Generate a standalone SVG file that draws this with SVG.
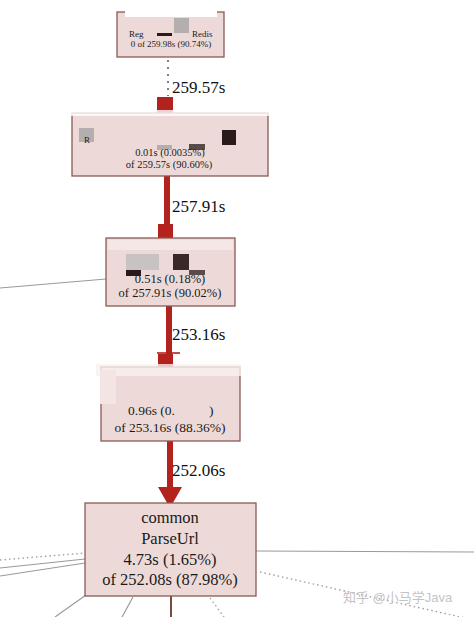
<svg xmlns="http://www.w3.org/2000/svg" width="474" height="617" viewBox="0 0 474 617">
<style>
.node{fill:#eddad8;stroke:#8a5a55;stroke-width:1.3}
.t{font-family:"Liberation Serif","Times New Roman",serif;fill:#1a1a1a;text-anchor:middle}
.lbl{font-family:"Liberation Serif","Times New Roman",serif;fill:#111;font-size:17px}
.red{fill:#b3221c}
.thin{fill:none;stroke:#9a9a9a;stroke-width:1.2}
.dot{fill:none;stroke:#a0a0a0;stroke-width:1.4;stroke-dasharray:1.5 3}
.blur{fill:#b5aeae}
.dark{fill:#2a1a1a}
</style>
<rect width="474" height="617" fill="#ffffff"/>
<g id="connectors">
<line x1="168" y1="60" x2="168" y2="96" stroke="#555" stroke-width="1.5" stroke-dasharray="2 5"/>
<rect class="red" x="157" y="97" width="16" height="16"/>
<rect class="red" x="164" y="176" width="6" height="48"/>
<rect class="red" x="158" y="224" width="15" height="14"/>
<rect class="red" x="166" y="306" width="6" height="48"/>
<rect class="red" x="158" y="354" width="15" height="13"/>
<rect class="red" x="157" y="352" width="23" height="2" opacity="0.8"/>
<rect class="red" x="167" y="441" width="6" height="47"/>
<polygon class="red" points="158,487 182,487 170,508"/>
<line x1="171" y1="596" x2="171" y2="617" stroke="#7a4a40" stroke-width="2"/>
<path class="thin" d="M0 288 L106 279"/>
<path class="thin" d="M256 551 L474 552"/>
<path class="dot" d="M260 572 L474 620"/>
<path class="dot" d="M210 598 L224 617"/>
<path class="dot" d="M0 560 L85 553"/>
<path class="thin" d="M0 568 L85 559"/>
<path class="thin" d="M0 576 L85 563"/>
<path class="thin" d="M86 595 L55 617"/>
<path class="thin" d="M133 597 L122 617"/>
<text class="lbl" x="172" y="93">259.57s</text>
<text class="lbl" x="172" y="212">257.91s</text>
<text class="lbl" x="172" y="340">253.16s</text>
<text class="lbl" x="172" y="476">252.06s</text>
</g>
<g id="node1">
<rect class="node" x="117" y="12" width="107" height="45"/>
<rect x="125" y="8" width="92" height="9" fill="#ffffff"/>
<text x="129" y="37" font-size="9" font-family="Liberation Serif, serif" fill="#1a1a1a">Reg</text>
<text x="192" y="37" font-size="9" font-family="Liberation Serif, serif" fill="#1a1a1a">Redis</text>
<text class="t" x="171" y="47" font-size="9">0 of 259.98s (90.74%)</text>
<rect class="blur" x="174" y="18" width="15" height="15"/>
<rect class="dark" x="157" y="33" width="15" height="3"/>
</g>
<g id="node2">
<rect class="node" x="72" y="113" width="196" height="63"/>
<rect x="70" y="110" width="200" height="6" fill="#ffffff" opacity="0.8"/>
<rect class="blur" x="79" y="128" width="15" height="14"/>
<text x="84" y="143" font-size="9" font-family="Liberation Serif, serif" fill="#222">R</text>
<rect class="dark" x="222" y="130" width="14" height="15"/>
<rect class="blur" x="157" y="145" width="15" height="5"/>
<rect fill="#5a4a4a" x="189" y="144" width="16" height="6"/>
<text class="t" x="170" y="156" font-size="10.5">0.01s (0.0035%)</text>
<text class="t" x="169" y="168" font-size="10.5">of 259.57s (90.60%)</text>
</g>
<g id="node3">
<rect class="node" x="106" y="238" width="129" height="68"/>
<rect x="108" y="240" width="125" height="10" fill="#f6eceb" opacity="0.7"/>
<rect fill="#c9c2c2" x="126" y="254" width="33" height="16"/>
<rect fill="#3a2828" x="173" y="254" width="16" height="16"/>
<text class="t" x="170" y="283" font-size="12.5">0.51s (0.18%)</text>
<rect class="dark" x="126" y="270" width="15" height="6"/>
<rect fill="#5a4a4a" x="189" y="270" width="16" height="5"/>
<text class="t" x="170" y="297" font-size="12.5">of 257.91s (90.02%)</text>
</g>
<g id="node4">
<rect class="node" x="101" y="367" width="139" height="74"/>
<rect x="96" y="364" width="145" height="12" fill="#f8f0ef" opacity="0.8"/>
<rect x="100" y="370" width="16" height="34" fill="#f4e4e3"/>
<text x="128" y="415" font-size="13.5" font-family="Liberation Serif, serif" fill="#1a1a1a">0.96s (0.</text>
<text x="209" y="415" font-size="13.5" font-family="Liberation Serif, serif" fill="#1a1a1a">)</text>
<text class="t" x="170" y="432" font-size="13.5">of 253.16s (88.36%)</text>
</g>
<g id="node5">
<rect class="node" x="85" y="503" width="171" height="93" stroke-width="1.6"/>
<text class="t" x="170" y="523" font-size="16.5">common</text>
<text class="t" x="170" y="544" font-size="16.5">ParseUrl</text>
<text class="t" x="170" y="565" font-size="16.5">4.73s (1.65%)</text>
<text class="t" x="170" y="585" font-size="16.5">of 252.08s (87.98%)</text>
</g>
<text x="343" y="602" font-size="13" fill="#c4c4c4" font-family="Liberation Sans, Noto Sans CJK SC, sans-serif">知乎 @小马学Java</text>
</svg>
